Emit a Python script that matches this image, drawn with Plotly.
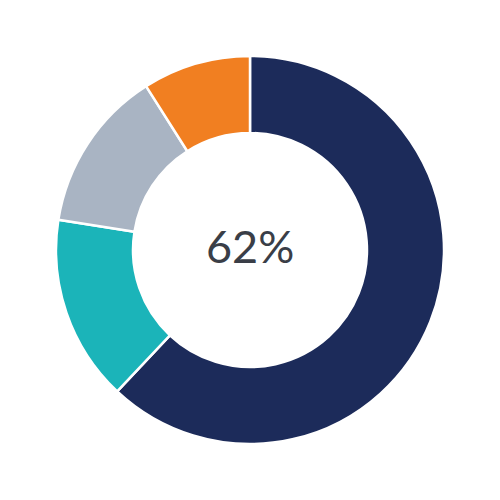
import plotly.graph_objects as go

labels = ["A", "B", "C", "D"]
values = [62, 15.5, 13.5, 9]
colors = ["#1c2b5a", "#1bb4b9", "#a9b4c3", "#f17f21"]
center_text = "62%"

off = 8 / 500  # compensate page body margin
fig = go.Figure(go.Pie(
    labels=labels, values=values, hole=0.603, sort=False, direction="clockwise",
    rotation=0, marker=dict(colors=colors, line=dict(color="white", width=2.5)),
    textinfo="none", hoverinfo="skip", showlegend=False,
    domain=dict(x=[56/500 - off, 444/500 - off], y=[56/500 + off, 444/500 + off]),
))
fig.add_annotation(text=center_text, x=0.5 - off, y=0.5 + off, xref="paper", yref="paper",
                   yshift=4, showarrow=False, font=dict(family="Lato", size=45, color="#3a3e47"))
fig.update_layout(width=500, height=500, margin=dict(l=0, r=0, t=0, b=0),
                  paper_bgcolor="white", plot_bgcolor="white")
fig.write_html("out.html")
